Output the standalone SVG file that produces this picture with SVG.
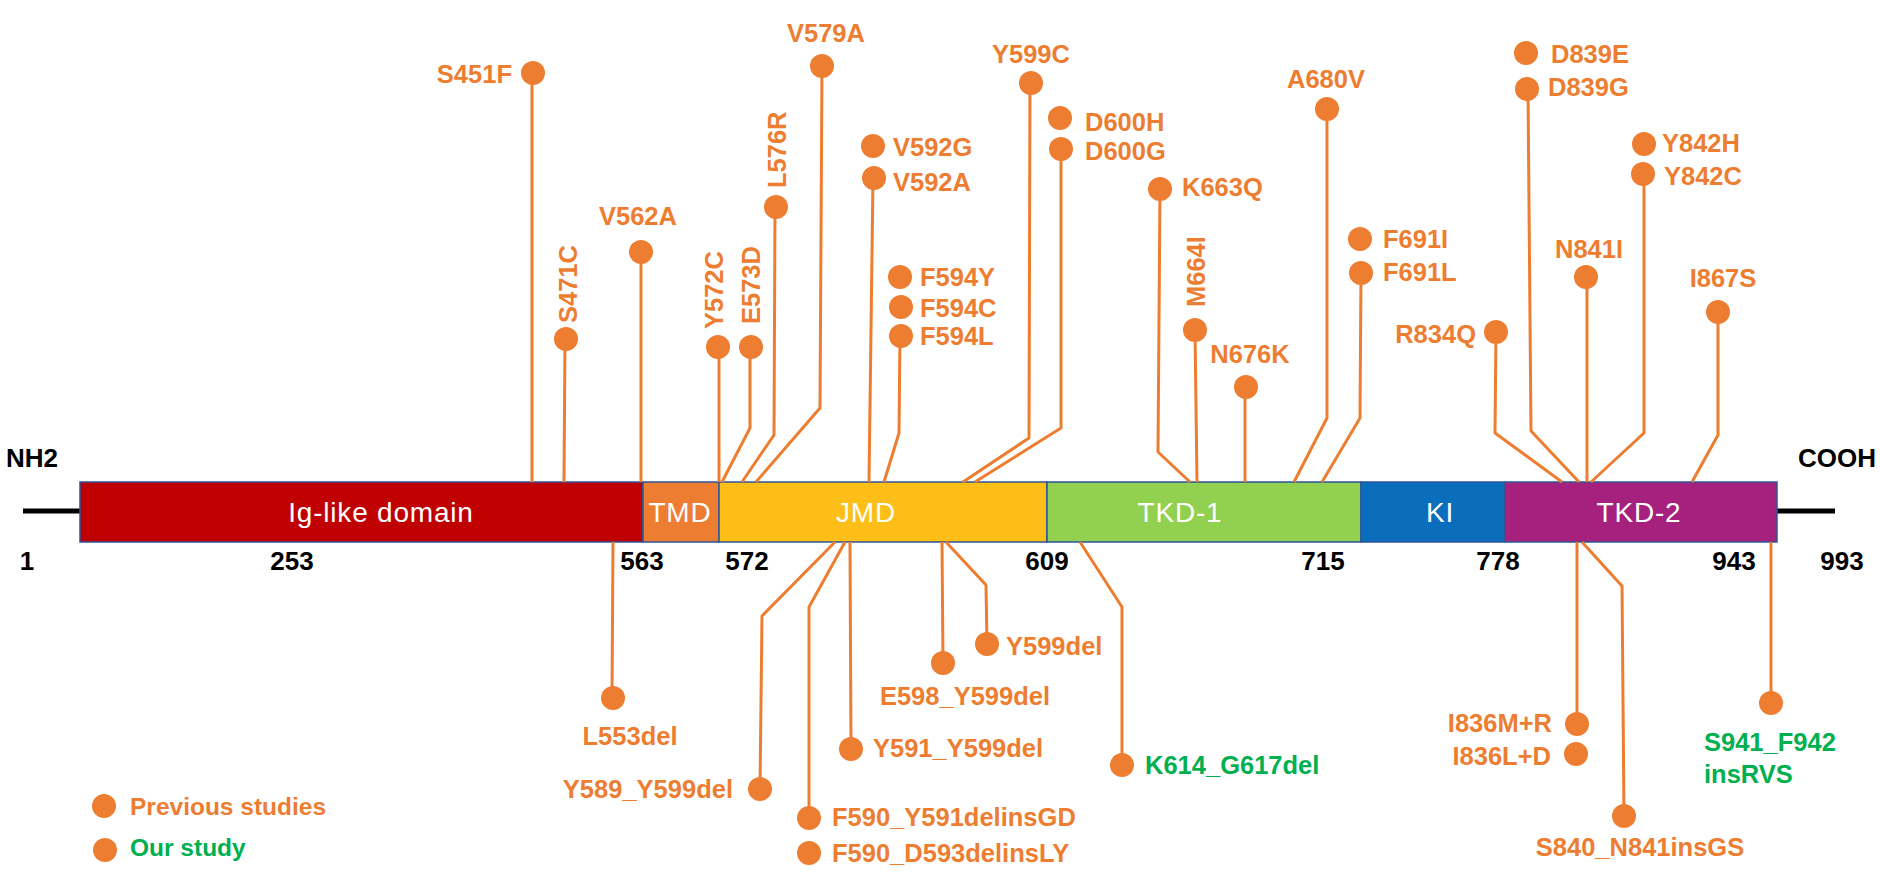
<svg xmlns="http://www.w3.org/2000/svg" width="1880" height="888" viewBox="0 0 1880 888">
<style>
text { font-family: "Liberation Sans", Arial, sans-serif; }
.m { font-weight: bold; font-size: 25.5px; fill: #ED7D31; }
.g { fill: #00B050; }
.c { text-anchor: middle; }
.e { text-anchor: end; }
.dot { fill: #ED7D31; }
.ln { stroke: #ED7D31; stroke-width: 3; fill: none; stroke-linejoin: round; }
.dom { stroke: #2F5597; stroke-width: 1.5; }
.dl { font-size: 28px; fill: #FFFFFF; letter-spacing: 0.8px; text-anchor: middle; }
.num { font-size: 26px; font-weight: bold; fill: #000; text-anchor: middle; }
.term { font-size: 26px; font-weight: bold; fill: #000; }
.leg { font-size: 24.5px; font-weight: bold; }
</style>
<rect width="1880" height="888" fill="#FFFFFF"/>

<g id="backbone">
  <line x1="23" y1="511" x2="80" y2="511" stroke="#000" stroke-width="5"/>
  <line x1="1777" y1="511" x2="1835" y2="511" stroke="#000" stroke-width="5"/>
  <text class="term" x="6" y="467">NH2</text>
  <text class="term" x="1798" y="467">COOH</text>
</g>

<g id="domains">
  <g id="dom-ig"><rect class="dom" x="80" y="482" width="563" height="60" fill="#C00000"/><text class="dl" x="381" y="522">Ig-like domain</text></g>
  <g id="dom-tmd"><rect class="dom" x="643" y="482" width="76" height="60" fill="#ED7D31"/><text class="dl" x="680" y="522">TMD</text></g>
  <g id="dom-jmd"><rect class="dom" x="719" y="482" width="328" height="60" fill="#FDBF17"/><text class="dl" x="866" y="522">JMD</text></g>
  <g id="dom-tkd1"><rect class="dom" x="1047" y="482" width="314" height="60" fill="#92D050"/><text class="dl" x="1180" y="522">TKD-1</text></g>
  <g id="dom-ki"><rect class="dom" x="1361" y="482" width="144" height="60" fill="#0A6EBD"/><text class="dl" x="1440" y="522">KI</text></g>
  <g id="dom-tkd2"><rect class="dom" x="1505" y="482" width="272" height="60" fill="#A6207E"/><text class="dl" x="1639" y="522">TKD-2</text></g>
</g>

<g id="positions">
  <text class="num" x="27" y="570">1</text>
  <text class="num" x="292" y="570">253</text>
  <text class="num" x="642" y="570">563</text>
  <text class="num" x="747" y="570">572</text>
  <text class="num" x="1047" y="570">609</text>
  <text class="num" x="1323" y="570">715</text>
  <text class="num" x="1498" y="570">778</text>
  <text class="num" x="1734" y="570">943</text>
  <text class="num" x="1842" y="570">993</text>
</g>

<g id="connectors">
  <polyline class="ln" points="532,73 532,482"/>
  <polyline class="ln" points="565,339 564,482"/>
  <polyline class="ln" points="641,252 641,482"/>
  <polyline class="ln" points="719,347 719,482"/>
  <polyline class="ln" points="750,347 750,428 722,482"/>
  <polyline class="ln" points="775,207 774,435 742,482"/>
  <polyline class="ln" points="822,66 820,408 756,482"/>
  <polyline class="ln" points="873,178 869,482"/>
  <polyline class="ln" points="900,336 899,433 884,482"/>
  <polyline class="ln" points="1030,83 1029,438 963,482"/>
  <polyline class="ln" points="1061,149 1061,428 975,482"/>
  <polyline class="ln" points="1160,189 1158,452 1190,482"/>
  <polyline class="ln" points="1195,330 1197,482"/>
  <polyline class="ln" points="1245,387 1245,482"/>
  <polyline class="ln" points="1327,109 1327,418 1294,482"/>
  <polyline class="ln" points="1361,273 1360,418 1322,482"/>
  <polyline class="ln" points="1496,332 1495,433 1562,482"/>
  <polyline class="ln" points="1528,89 1531,431 1579,482"/>
  <polyline class="ln" points="1587,277 1587,482"/>
  <polyline class="ln" points="1644,174 1644,433 1591,482"/>
  <polyline class="ln" points="1718,312 1718,435 1692,482"/>

  <polyline class="ln" points="613,542 612,698"/>
  <polyline class="ln" points="835,542 762,616 760,789"/>
  <polyline class="ln" points="845,542 809,607 809,818"/>
  <polyline class="ln" points="850,542 851,749"/>
  <polyline class="ln" points="942,542 943,663"/>
  <polyline class="ln" points="946,542 986,585 987,644"/>
  <polyline class="ln" points="1080,542 1122,607 1122,765"/>
  <polyline class="ln" points="1577,542 1577,724"/>
  <polyline class="ln" points="1582,542 1622,586 1624,816"/>
  <polyline class="ln" points="1771,542 1771,703"/>
</g>

<g id="mut-S451F"><circle class="dot" cx="533" cy="73" r="12"/><text class="m e" x="512" y="83">S451F</text></g>
<g id="mut-S471C"><circle class="dot" cx="566" cy="339" r="12"/><text class="m" transform="translate(577,323) rotate(-90)">S471C</text></g>
<g id="mut-V562A"><circle class="dot" cx="641" cy="252" r="12"/><text class="m c" x="638" y="225">V562A</text></g>
<g id="mut-Y572C"><circle class="dot" cx="718" cy="347" r="12"/><text class="m" transform="translate(723,329) rotate(-90)">Y572C</text></g>
<g id="mut-E573D"><circle class="dot" cx="751" cy="347" r="12"/><text class="m" transform="translate(760,324) rotate(-90)">E573D</text></g>
<g id="mut-L576R"><circle class="dot" cx="776" cy="207" r="12"/><text class="m" transform="translate(786,188) rotate(-90)">L576R</text></g>
<g id="mut-V579A"><circle class="dot" cx="822" cy="66" r="12"/><text class="m c" x="826" y="42">V579A</text></g>
<g id="mut-V592"><circle class="dot" cx="873" cy="146" r="12"/><circle class="dot" cx="874" cy="178" r="12"/><text class="m" x="893" y="156">V592G</text><text class="m" x="893" y="191">V592A</text></g>
<g id="mut-F594"><circle class="dot" cx="900" cy="277" r="12"/><circle class="dot" cx="901" cy="307" r="12"/><circle class="dot" cx="901" cy="336" r="12"/><text class="m" x="920" y="286">F594Y</text><text class="m" x="920" y="317">F594C</text><text class="m" x="920" y="345">F594L</text></g>
<g id="mut-Y599C"><circle class="dot" cx="1031" cy="83" r="12"/><text class="m c" x="1031" y="63">Y599C</text></g>
<g id="mut-D600"><circle class="dot" cx="1060" cy="118" r="12"/><circle class="dot" cx="1061" cy="149" r="12"/><text class="m" x="1085" y="131">D600H</text><text class="m" x="1085" y="160">D600G</text></g>
<g id="mut-K663Q"><circle class="dot" cx="1160" cy="189" r="12"/><text class="m" x="1182" y="196">K663Q</text></g>
<g id="mut-M664I"><circle class="dot" cx="1195" cy="330" r="12"/><text class="m" transform="translate(1205,307) rotate(-90)">M664I</text></g>
<g id="mut-N676K"><circle class="dot" cx="1246" cy="387" r="12"/><text class="m c" x="1250" y="363">N676K</text></g>
<g id="mut-A680V"><circle class="dot" cx="1327" cy="109" r="12"/><text class="m c" x="1326" y="88">A680V</text></g>
<g id="mut-F691"><circle class="dot" cx="1360" cy="239" r="12"/><circle class="dot" cx="1361" cy="273" r="12"/><text class="m" x="1383" y="248">F691I</text><text class="m" x="1383" y="281">F691L</text></g>
<g id="mut-R834Q"><circle class="dot" cx="1496" cy="332" r="12"/><text class="m e" x="1476" y="343">R834Q</text></g>
<g id="mut-D839"><circle class="dot" cx="1526" cy="53" r="12"/><circle class="dot" cx="1527" cy="89" r="12"/><text class="m" x="1551" y="63">D839E</text><text class="m" x="1548" y="96">D839G</text></g>
<g id="mut-N841I"><circle class="dot" cx="1586" cy="277" r="12"/><text class="m c" x="1589" y="258">N841I</text></g>
<g id="mut-Y842"><circle class="dot" cx="1644" cy="144" r="12"/><circle class="dot" cx="1643" cy="174" r="12"/><text class="m" x="1662" y="152">Y842H</text><text class="m" x="1664" y="185">Y842C</text></g>
<g id="mut-I867S"><circle class="dot" cx="1718" cy="312" r="12"/><text class="m c" x="1723" y="287">I867S</text></g>

<g id="mut-L553del"><circle class="dot" cx="613" cy="698" r="12"/><text class="m c" x="630" y="745">L553del</text></g>
<g id="mut-Y589_Y599del"><circle class="dot" cx="760" cy="789" r="12"/><text class="m e" x="733" y="798">Y589_Y599del</text></g>
<g id="mut-F590"><circle class="dot" cx="809" cy="818" r="12"/><circle class="dot" cx="809" cy="853" r="12"/><text class="m" x="832" y="826">F590_Y591delinsGD</text><text class="m" x="832" y="862">F590_D593delinsLY</text></g>
<g id="mut-Y591_Y599del"><circle class="dot" cx="851" cy="749" r="12"/><text class="m" x="873" y="757">Y591_Y599del</text></g>
<g id="mut-E598_Y599del"><circle class="dot" cx="943" cy="663" r="12"/><text class="m c" x="965" y="705">E598_Y599del</text></g>
<g id="mut-Y599del"><circle class="dot" cx="987" cy="644" r="12"/><text class="m" x="1006" y="655">Y599del</text></g>
<g id="mut-K614_G617del"><circle class="dot" cx="1122" cy="765" r="12"/><text class="m g" x="1145" y="774">K614_G617del</text></g>
<g id="mut-I836"><circle class="dot" cx="1577" cy="724" r="12"/><circle class="dot" cx="1576" cy="754" r="12"/><text class="m e" x="1552" y="732">I836M+R</text><text class="m e" x="1551" y="765">I836L+D</text></g>
<g id="mut-S840_N841insGS"><circle class="dot" cx="1624" cy="816" r="12"/><text class="m c" x="1640" y="856">S840_N841insGS</text></g>
<g id="mut-S941_F942insRVS"><circle class="dot" cx="1771" cy="703" r="12"/><text class="m g" x="1704" y="751">S941_F942</text><text class="m g" x="1704" y="783">insRVS</text></g>

<g id="legend">
  <circle class="dot" cx="104" cy="806" r="12"/>
  <text class="leg" x="130" y="815" fill="#ED7D31">Previous studies</text>
  <circle class="dot" cx="105" cy="850" r="12"/>
  <text class="leg" x="130" y="856" fill="#00B050">Our study</text>
</g>
</svg>
